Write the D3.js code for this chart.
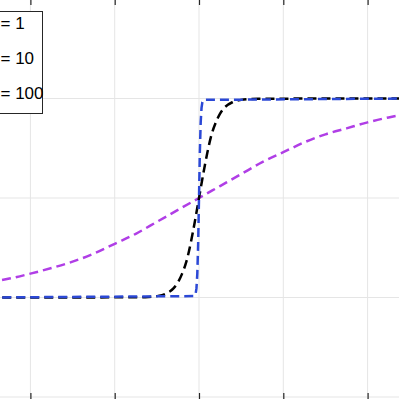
<!DOCTYPE html>
<html>
<head>
<meta charset="utf-8">
<script src="https://cdn.jsdelivr.net/npm/d3@7"></script>
<style>
	body { margin: 0; background: #fff; }
	svg { display: block; }
</style>
</head>
<body>
<svg id="svg_main" width="399" height="399"></svg>
<script>
// values
var xK1 = [-2.5, -2.25, -2, -1.75, -1.5, -1.25, -1, -0.75, -0.5, -0.25, 0, 0.25, 0.5, 0.75, 1, 1.25, 1.5, 1.75, 2, 2.25, 2.5];
var yK1 = [0.076, 0.095, 0.12, 0.148, 0.18, 0.22, 0.27, 0.32, 0.38, 0.44, 0.5, 0.56, 0.62, 0.68, 0.73, 0.78, 0.82, 0.85, 0.88, 0.905, 0.924];

var xK10 = [-2.5, -0.7, -0.6, -0.5, -0.4, -0.3, -0.25, -0.2, -0.15, -0.1, -0.05, 0, 0.05, 0.1, 0.15, 0.2, 0.25, 0.3, 0.4, 0.5, 0.6, 0.7, 2.5];
var yK10 = [0, 0.001, 0.0025, 0.007, 0.018, 0.047, 0.076, 0.12, 0.18, 0.27, 0.38, 0.5, 0.62, 0.73, 0.82, 0.88, 0.924, 0.953, 0.982, 0.993, 0.9975, 0.999, 1];

var xK100 = [-2.5, -0.05, -0.04, -0.03, -0.02, -0.01, 0, 0.01, 0.02, 0.03, 0.04, 0.05, 2.5];
var yK100 = [0, 0.007, 0.018, 0.047, 0.12, 0.27, 0.5, 0.73, 0.88, 0.953, 0.982, 0.993, 1];

var legendLabels = ["= 1", "= 10", "= 100"];
var xTicks = [-2, -1, 0, 1, 2];
var yTicks = [-0.5, 0, 0.5, 1, 1.5];

var series = [
	{ xs: xK1, ys: yK1, color: "#b03ee6", curve: d3.curveMonotoneX },
	{ xs: xK10, ys: yK10, color: "#000000", curve: d3.curveMonotoneX },
	{ xs: xK100, ys: yK100, color: "#2b48d6", curve: d3.curveLinear }
];

var svg = d3.select("#svg_main");
var W = 399, H = 399;

// plot area runs past the picture edges (picture is a crop)
var x = d3.scaleLinear().domain([-2.5, 2.5]).range([199 - 2.5 * 84.3, 199 + 2.5 * 84.3]),
	y = d3.scaleLinear().domain([-0.5, 1.5]).range([397, -1]);

// grid
svg.append("g")
	.attr("class", "grid")
	.selectAll("line.v")
	.data(xTicks)
	.enter().append("line")
	.attr("x1", d => x(d)).attr("x2", d => x(d))
	.attr("y1", 0).attr("y2", H)
	.attr("stroke", "#e5e5e5")
	.attr("stroke-width", 1);
svg.select(".grid")
	.selectAll("line.h")
	.data(yTicks)
	.enter().append("line")
	.attr("x1", 0).attr("x2", W)
	.attr("y1", d => y(d)).attr("y2", d => y(d))
	.attr("stroke", "#e5e5e5")
	.attr("stroke-width", 1);

// axes (inward ticks; their labels lie outside the crop, so none drawn)
var xAxisBottom = d3.axisBottom(x).tickValues(xTicks).tickSizeInner(-7).tickSizeOuter(0).tickFormat(""),
	xAxisTop = d3.axisTop(x).tickValues(xTicks).tickSizeInner(-7).tickSizeOuter(0).tickFormat("");

svg.append("g")
	.attr("class", "xAxis")
	.attr("transform", `translate(0, ${H + 1})`)
	.call(xAxisBottom);
svg.append("g")
	.attr("class", "xAxisTop")
	.attr("transform", "translate(0, -2)")
	.call(xAxisTop);
svg.selectAll(".xAxis line, .xAxisTop line").attr("stroke", "#262626").attr("stroke-width", 1.2);
svg.selectAll(".xAxis path, .xAxisTop path").attr("stroke", "#262626");

// curves
var line = d3.line()
	.x(d => x(d[0]))
	.y(d => y(d[1]));

for (let s of series) {
	let pts = s.xs.map((v, i) => [v, s.ys[i]]);
	svg.append("path")
		.datum(pts)
		.attr("fill", "none")
		.attr("stroke", s.color)
		.attr("stroke-width", 2.5)
		.attr("stroke-dasharray", "9,5")
		.attr("d", line.curve(s.curve));
}

// legend (cut off at the left edge)
var legend = svg.append("g").attr("class", "legend");
legend.append("rect")
	.attr("x", -60)
	.attr("y", 11.5)
	.attr("width", 102.5)
	.attr("height", 102)
	.attr("fill", "#fff")
	.attr("stroke", "#262626")
	.attr("stroke-width", 1);

legend.selectAll("text")
	.data(legendLabels)
	.enter().append("text")
	.attr("x", 0.5)
	.attr("y", (d, i) => 29 + i * 35)
	.attr("font-family", "Liberation Sans, Arial, sans-serif")
	.attr("font-size", "17px")
	.attr("fill", "#000")
	.text(d => d);
</script>
</body>
</html>
